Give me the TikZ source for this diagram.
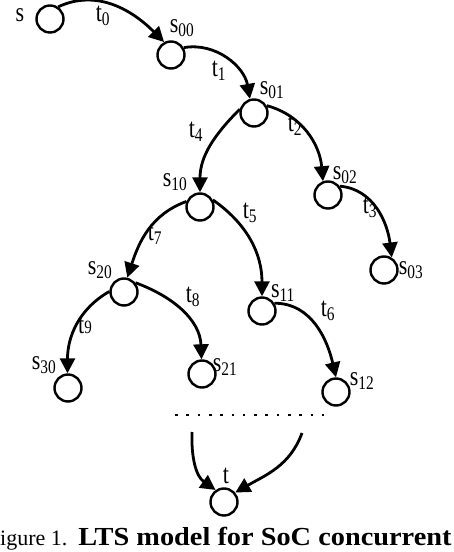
\documentclass[tikz,border=0pt]{standalone}
\usepackage{fontspec}
\usepackage{graphicx}
\setmainfont{Liberation Serif}
\usetikzlibrary{arrows.meta}
\newcommand{\tall}[1]{\scalebox{1}[1.25]{#1}}
\begin{document}
\begin{tikzpicture}[x=1pt,y=1pt,
  state/.style={circle,draw,line width=2.4pt,minimum size=27pt,inner sep=0pt},
  lbl/.style={inner sep=0pt,font=\fontsize{22}{24}\selectfont},
  edge/.style={line width=2.8pt,-{Triangle[length=15pt,width=15pt]}},
  dotline/.style={line width=2.6pt,dash pattern=on 2.6pt off 8.7pt}]
\useasboundingbox (0,0) rectangle (454,552);
% states
\node[state] (s)   at (50,533) {};
\node[state] (s00) at (171,497) {};
\node[state] (s01) at (254,439) {};
\node[state] (s10) at (200,345) {};
\node[state] (s02) at (328,357) {};
\node[state] (s03) at (384,282) {};
\node[state] (s20) at (124,260) {};
\node[state] (s11) at (262,241) {};
\node[state] (s30) at (68,164) {};
\node[state] (s21) at (202,178) {};
\node[state] (s12) at (336,160) {};
\node[state] (t)   at (224,50) {};
% state labels
\node[lbl] (ls)   at (20,537) {\tall{s}};
\node[lbl] (ls00) at (182,524) {\tall{s\textsubscript{00}}};
\node[lbl] (ls01) at (272,462) {\tall{s\textsubscript{01}}};
\node[lbl] (ls10) at (175,370) {\tall{s\textsubscript{10}}};
\node[lbl] (ls02) at (345,377) {\tall{s\textsubscript{02}}};
\node[lbl] (ls03) at (411,282) {\tall{s\textsubscript{03}}};
\node[lbl] (ls20) at (100,282) {\tall{s\textsubscript{20}}};
\node[lbl] (ls11) at (283,259) {\tall{s\textsubscript{11}}};
\node[lbl] (ls30) at (44,187) {\tall{s\textsubscript{30}}};
\node[lbl] (ls21) at (225,185) {\tall{s\textsubscript{21}}};
\node[lbl] (ls12) at (362,171) {\tall{s\textsubscript{12}}};
\node[lbl] (lt)   at (226,76) {\tall{t}};
% transition labels
\node[lbl] (lt0) at (103,536) {\tall{t\textsubscript{0}}};
\node[lbl] (lt1) at (219,481) {\tall{t\textsubscript{1}}};
\node[lbl] (lt4) at (196,420) {\tall{t\textsubscript{4}}};
\node[lbl] (lt2) at (295,426) {\tall{t\textsubscript{2}}};
\node[lbl] (lt3) at (370,344) {\tall{t\textsubscript{3}}};
\node[lbl] (lt5) at (250,339) {\tall{t\textsubscript{5}}};
\node[lbl] (lt7) at (155,317) {\tall{t\textsubscript{7}}};
\node[lbl] (lt8) at (193,255) {\tall{t\textsubscript{8}}};
\node[lbl] (lt9) at (85,226) {\tall{t{\fontsize{15}{16}\selectfont 9}}};
\node[lbl] (lt6) at (328,241) {\tall{t\textsubscript{6}}};
% edges
\draw[edge] (s.56)   to[out=25,in=135]  (s00.118);
\draw[edge] (s00.30) to[out=10,in=100]  (s01.106);
\draw[edge] (s01.165) to[out=225,in=90] (s10.north);
\draw[edge] (s01.30) to[out=-15,in=95]  (s02.110);
\draw[edge] (s02.37) to[out=-5,in=97]   (s03.58);
\draw[edge] (s10.158) to[out=200,in=72] (s20.77);
\draw[edge] (s10.29) to[out=-35,in=90]  (s11.north);
\draw[edge] (s20.39) to[out=-20,in=92]  (s21.92);
\draw[edge] (s20.178) to[out=210,in=90] (s30.92);
\draw[edge] (s11.32) to[out=0,in=103]   (s12.90);
% dots and final arrows
\coordinate (d1) at (175,137);
\coordinate (d2) at (324,137);
\draw[dotline] (d1) -- (d2);
\coordinate (f1) at (192,120);
\coordinate (f2) at (302,119);
\draw[edge] (f1) to[out=268,in=145] (t.125);
\draw[edge] (f2) to[out=250,in=30]  (t.40);
% caption
\node[anchor=base west,inner sep=0pt] (cap) at (0,6)
  {\fontsize{22}{24}\selectfont igure 1.\hspace{11pt}\scalebox{1.09}[1]{\fontsize{26}{28}\selectfont\bfseries LTS model for SoC concurrent}};
\end{tikzpicture}
\end{document}
